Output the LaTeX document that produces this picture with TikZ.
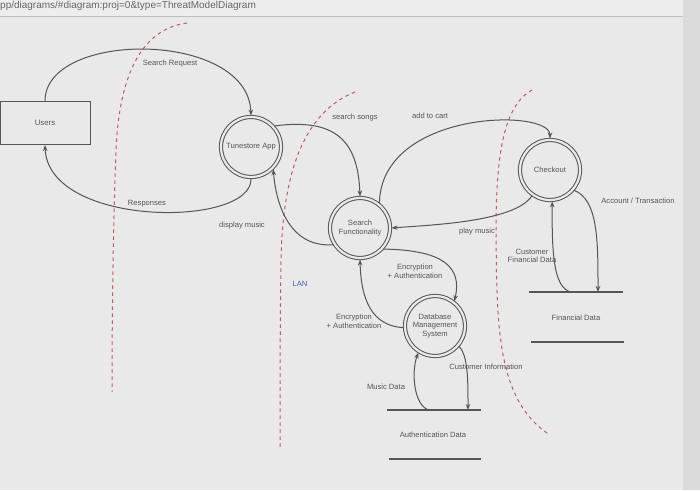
\documentclass[tikz,border=0pt]{standalone}
\usepackage{fontspec}
\setmainfont{Liberation Sans}
\usetikzlibrary{arrows.meta}
\definecolor{bg}{HTML}{E9E9E9}
\definecolor{ln}{HTML}{555555}
\definecolor{txt}{HTML}{555555}
\definecolor{bnd}{HTML}{C0586A}
\definecolor{lanblue}{HTML}{3A5FB0}
\tikzset{
  proc/.style={circle, draw=ln, line width=1pt, double=bg, double distance=2.2pt,
    minimum size=60pt, inner sep=0pt, outer sep=1.5pt, align=center,
    font=\fontsize{7.6}{8.6}\selectfont, text=txt},
  extent/.style={rectangle, draw=ln, line width=1pt, minimum width=90pt, minimum height=43pt,
    font=\fontsize{7.8}{9}\selectfont, text=txt},
  flow/.style={draw=ln, line width=1pt, -{Stealth[length=6pt,width=4.5pt]}},
  storeline/.style={draw=ln, line width=1.1pt},
  lbl/.style={font=\fontsize{7.6}{8.6}\selectfont, text=txt, align=center, inner sep=1pt},
  boundary/.style={draw=bnd, line width=1pt, dash pattern=on 3.5pt off 3.5pt}
}
\begin{document}
\begin{tikzpicture}[x=1pt,y=-1pt]
\useasboundingbox (0,0) rectangle (700,490);
\fill[bg] (0,0) rectangle (700,490);
\fill[white!86!black] (683,0) rectangle (700,490);
\fill[white!93!black] (0,0) rectangle (683,16);
\draw[white!75!black] (0,16) -- (683,16);
\node[anchor=west, font=\fontsize{10}{11}\selectfont, text=black!60, inner sep=0pt] (url) at (0,6) {pp/diagrams/\#diagram:proj=0\&type=ThreatModelDiagram};

% trust boundaries
\draw[boundary] (187,23) .. controls (150,28) and (120,60) .. (116,150) .. controls (113,230) and (112,320) .. (112,392);
\draw[boundary] (355,92) .. controls (310,110) and (283,160) .. (281,260) .. controls (280,330) and (280,400) .. (280,447);
\draw[boundary] (532,90) .. controls (505,105) and (496,150) .. (496,230) .. controls (497,320) and (495,400) .. (550,435);

% nodes
\node[extent] (users) at (45,123) {Users};
\node[proc] (tune) at (251,147) {Tunestore App};
\node[proc] (search) at (360,228) {Search\\Functionality};
\node[proc] (checkout) at (550,170) {Checkout};
\node[proc] (dbms) at (435,326) {Database\\Management\\System};

% data stores
\coordinate (a1) at (387,410); \coordinate (a2) at (481,410);
\coordinate (a3) at (389,459); \coordinate (a4) at (481,459);
\draw[storeline] (a1) -- (a2);
\draw[storeline] (a3) -- (a4);
\node[lbl] (authlbl) at (433,435) {Authentication Data};
\coordinate (f1) at (529,292); \coordinate (f2) at (623,292);
\coordinate (f3) at (531,342); \coordinate (f4) at (624,342);
\draw[storeline] (f1) -- (f2);
\draw[storeline] (f3) -- (f4);
\node[lbl] (finlbl) at (576,318) {Financial Data};
\coordinate (ad1) at (429,410);
\coordinate (ad2) at (468,410);
\coordinate (fd1) at (572,292);
\coordinate (fd2) at (598,292);

% flows
\draw[flow] (users.north) .. controls (45,30) and (248,30) .. (tune.north);
\node[lbl] (l1) at (170,64) {Search Request};
\draw[flow] (tune.south) .. controls (253,228) and (48,228) .. (users.south);
\node[lbl] (l2) at (147,204) {Responses};
\draw[flow] (tune.42) .. controls (335,118) and (358,140) .. (search.north);
\node[lbl] (l3) at (355,118) {search songs};
\draw[flow] (search.212) .. controls (290,248) and (276,205) .. (tune.-45);
\node[lbl] (l4) at (242,226) {display music};
\draw[flow] (search.52) .. controls (381,110) and (550,108) .. (checkout.north);
\node[lbl] (l5) at (430,116) {add to cart};
\draw[flow] (checkout.235) .. controls (515,222) and (430,225) .. (search.east);
\node[lbl] (l6) at (477,232) {play music};
\draw[flow] (search.-42) .. controls (445,250) and (462,268) .. (dbms.52);
\node[lbl] (l7) at (415,271) {Encryption\\+ Authentication};
\draw[flow] (dbms.183) .. controls (372,326) and (361,300) .. (search.south);
\node[lbl] (l8) at (354,321) {Encryption\\+ Authentication};
\draw[flow] (ad1) .. controls (414,406) and (411,372) .. (dbms.238);
\node[lbl] (l9) at (386,387) {Music Data};
\draw[flow] (dbms.-40) .. controls (468,356) and (468,380) .. (ad2);
\node[lbl] (l10) at (486,367) {Customer Information};
\draw[flow] (fd1) .. controls (552,290) and (552,245) .. (checkout.-86);
\node[lbl] (l11) at (532,256) {Customer\\Financial Data};
\draw[flow] (checkout.-40) .. controls (598,200) and (598,240) .. (fd2);
\node[lbl] (l12) at (638,201) {Account / Transaction};

\node[font=\fontsize{7.6}{8.6}\selectfont, text=lanblue] (lan) at (300,284) {LAN};
\end{tikzpicture}
\end{document}
